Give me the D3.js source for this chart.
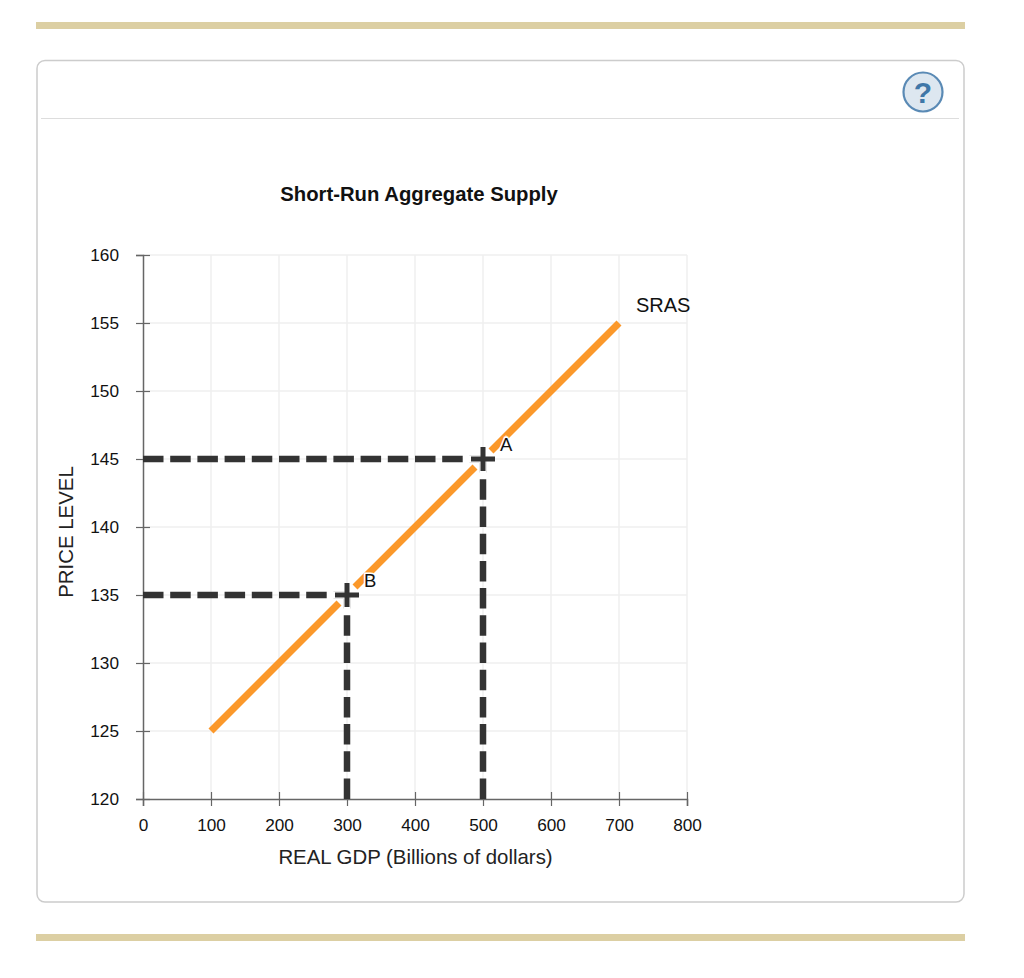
<!DOCTYPE html>
<html lang="en">
<head>
    <meta charset="UTF-8">
    <title>Short-Run Aggregate Supply</title>
    <script src="https://cdn.jsdelivr.net/npm/d3@7"></script>
    <style>
        html, body { margin: 0; padding: 0; background: #fff; }
        svg { display: block; font-family: "Liberation Sans", Arial, sans-serif; }
        .tick text { font-size: 17.2px; fill: #111; }
        .axis-title { font-size: 20.4px; fill: #222; }
    </style>
</head>
<body>
    <svg id="chart" width="1024" height="978"></svg>
    <script>
        const xTicks = [0, 100, 200, 300, 400, 500, 600, 700, 800];
        const yTicks = [120, 125, 130, 135, 140, 145, 150, 155, 160];
        const srasGdp = [100, 700];
        const srasPrice = [125, 155];
        const pointNames = ['A', 'B'];
        const pointGdp = [500, 300];
        const pointPrice = [145, 135];

        const svg = d3.select('#chart');

        // page furniture
        [22, 934].forEach(y => {
            svg.append('rect').attr('x', 36).attr('y', y).attr('width', 929).attr('height', 7).attr('fill', '#dccfa3');
        });
        svg.append('rect').attr('x', 37).attr('y', 60.5).attr('width', 927).attr('height', 841.5)
            .attr('rx', 8).attr('fill', '#fff').attr('stroke', '#ccc').attr('stroke-width', 1.5);
        svg.append('line').attr('x1', 41).attr('x2', 959).attr('y1', 118.5).attr('y2', 118.5)
            .attr('stroke', '#ddd').attr('stroke-width', 1.2);

        // help icon
        svg.append('circle').attr('cx', 923).attr('cy', 92).attr('r', 19.5)
            .attr('fill', '#dde7f0').attr('stroke', '#5a8ab5').attr('stroke-width', 2.2);
        svg.append('text').attr('x', 923).attr('y', 103).attr('text-anchor', 'middle')
            .attr('font-size', 30).attr('font-weight', 'bold').attr('fill', '#3f77a8').text('?');

        const x = d3.scaleLinear().domain([0, 800]).range([143, 687]);
        const y = d3.scaleLinear().domain([120, 160]).range([799, 255]);

        // grid
        svg.append('g').selectAll('line').data(xTicks.slice(1)).enter().append('line')
            .attr('x1', d => x(d)).attr('x2', d => x(d)).attr('y1', y(160)).attr('y2', y(120))
            .attr('stroke', '#efefef').attr('stroke-width', 1.5);
        svg.append('g').selectAll('line').data(yTicks.slice(1)).enter().append('line')
            .attr('x1', x(0)).attr('x2', x(800)).attr('y1', d => y(d)).attr('y2', d => y(d))
            .attr('stroke', '#efefef').attr('stroke-width', 1.5);

        // axes, ticks cross the axis line
        const xAxis = svg.append('g').attr('transform', `translate(0,${y(120)})`)
            .call(d3.axisBottom(x).tickValues(xTicks).tickSize(7).tickPadding(13).tickFormat(d3.format('d')));
        const yAxis = svg.append('g').attr('transform', `translate(${x(0)},0)`)
            .call(d3.axisLeft(y).tickValues(yTicks).tickSize(7).tickPadding(17).tickFormat(d3.format('d')));
        [xAxis, yAxis].forEach(a => {
            a.attr('font-family', null).attr('font-size', null);
            a.select('.domain').attr('stroke', '#666').attr('stroke-width', 1.5);
            a.selectAll('.tick line').attr('stroke', '#666').attr('stroke-width', 1.2);
        });
        xAxis.selectAll('.tick line').attr('y1', -7);
        yAxis.selectAll('.tick line').attr('x1', 7);

        // SRAS line
        const line = d3.line().x(d => x(d[0])).y(d => y(d[1]));
        svg.append('path').attr('d', line(d3.zip(srasGdp, srasPrice)))
            .attr('fill', 'none').attr('stroke', '#fb982a').attr('stroke-width', 7);
        svg.append('text').attr('x', 636).attr('y', 312).attr('font-size', 20).attr('fill', '#111').text('SRAS');

        // points with dashed guides
        pointNames.forEach((name, i) => {
            const px = x(pointGdp[i]), py = y(pointPrice[i]);
            // white gap in the orange line around the marker
            svg.append('line').attr('x1', px - 8).attr('y1', py + 8).attr('x2', px + 8).attr('y2', py - 8)
                .attr('stroke', '#fff').attr('stroke-width', 9);
            const guides = d3.path();
            guides.moveTo(x(0), py);
            guides.lineTo(px, py);
            guides.moveTo(px, y(120));
            guides.lineTo(px, py);
            svg.append('path').attr('d', guides.toString()).attr('fill', 'none')
                .attr('stroke', '#333').attr('stroke-width', 6.5).attr('stroke-dasharray', '20.5 6.7');
            // erase the guide next to the marker, then draw the plus
            svg.append('rect').attr('x', px - 20).attr('y', py - 3.5).attr('width', 20).attr('height', 7).attr('fill', '#fff');
            svg.append('rect').attr('x', px - 3.5).attr('y', py).attr('width', 7).attr('height', 20).attr('fill', '#fff');
            const plus = d3.path();
            plus.moveTo(px - 12, py);
            plus.lineTo(px + 12, py);
            plus.moveTo(px, py - 12);
            plus.lineTo(px, py + 12);
            svg.append('path').attr('d', plus.toString()).attr('stroke', '#333').attr('stroke-width', 5);
            svg.append('text').attr('x', px + 17).attr('y', py - 8).attr('font-size', 18.5).attr('fill', '#111')
                .attr('stroke', '#fff').attr('stroke-width', 3).attr('paint-order', 'stroke').text(name);
        });

        // titles
        svg.append('text').attr('x', 419).attr('y', 201).attr('text-anchor', 'middle')
            .attr('font-size', 20.3).attr('font-weight', 'bold').attr('fill', '#111').text('Short-Run Aggregate Supply');
        svg.append('text').attr('class', 'axis-title').attr('x', 415.5).attr('y', 864).attr('text-anchor', 'middle')
            .text('REAL GDP (Billions of dollars)');
        svg.append('text').attr('class', 'axis-title').attr('text-anchor', 'middle')
            .attr('transform', 'translate(73,532) rotate(-90)').text('PRICE LEVEL');
    </script>
</body>
</html>
